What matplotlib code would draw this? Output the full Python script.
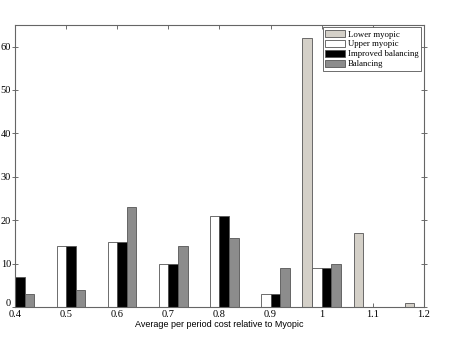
import numpy as np
import matplotlib
matplotlib.use("Agg")
import matplotlib.pyplot as plt
import matplotlib.transforms as mtransforms

# bin centres (cost relative to myopic)
bins = [0.4, 0.5, 0.6, 0.7, 0.8, 0.9, 1.0, 1.1, 1.2]

lower_myopic = [0, 0, 0, 0, 0, 0, 62, 17, 1]
upper_myopic = [7, 14, 15, 10, 21, 3, 9, 0, 0]
improved_balancing = [7, 14, 15, 10, 21, 3, 9, 0, 0]
balancing = [3, 4, 23, 14, 16, 9, 10, 0, 0]

series = [
    ("Lower myopic", lower_myopic, "#d4d0c8"),
    ("Upper myopic", upper_myopic, "#ffffff"),
    ("Improved balancing", improved_balancing, "#000000"),
    ("Balancing", balancing, "#8c8c8c"),
]

def main():
    fig = plt.figure(figsize=(4.74, 3.45), dpi=100)
    ax = fig.add_axes([0.032, 0.110, 0.862, 0.818])

    w = 0.01875
    x = np.array(bins)
    for i, (name, vals, col) in enumerate(series):
        ax.bar(x + (i - 2) * w, vals, width=w, align="edge", color=col,
               edgecolor="#555555", linewidth=0.6, label=name)

    ax.set_xlim(0.4, 1.2)
    ax.set_ylim(0, 65)
    ax.set_xticks(bins)
    ax.set_xticklabels(["0.4", "0.5", "0.6", "0.7", "0.8", "0.9", "1", "1.1", "1.2"])
    ax.set_yticks([0, 10, 20, 30, 40, 50, 60])
    ax.tick_params(direction="in", top=True, right=True, length=3,
                   width=0.6, color="#555555", labelsize=7.5, pad=1)
    ax.tick_params(axis="x", pad=2)
    ax.tick_params(axis="y", which="both", left=True, direction="inout", length=4)
    for lab in ax.get_xticklabels() + ax.get_yticklabels():
        lab.set_family("Liberation Serif")
    for s in ax.spines.values():
        s.set_color("#666666")
        s.set_linewidth(0.8)

    # nudge the y "0" up a touch so it doesn't sit on "0.4"
    zero = ax.get_yticklabels()[0]
    zero.set_transform(zero.get_transform() +
                       mtransforms.ScaledTranslation(0, 3 / 72, fig.dpi_scale_trans))

    ax.set_xlabel("Average per period cost relative to Myopic",
                  family="Liberation Sans", fontsize=6.5, labelpad=1)

    leg = ax.legend(loc="upper right", prop={"family": "Liberation Serif", "size": 6.3},
                    fancybox=False, framealpha=1, edgecolor="#555555",
                    handlelength=2.3, handleheight=0.85, handletextpad=0.3,
                    borderpad=0.3, labelspacing=0.15, borderaxespad=0.3)
    leg.get_frame().set_linewidth(0.6)

    fig.savefig("out.png", dpi=100, facecolor="white")

if __name__ == "__main__":
    main()
